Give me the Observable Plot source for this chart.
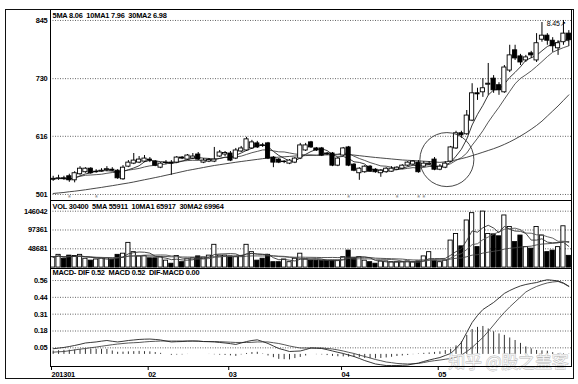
<!DOCTYPE html>
<html><head><meta charset="utf-8">
<script src="https://cdn.jsdelivr.net/npm/d3@7"></script>
<script src="https://cdn.jsdelivr.net/npm/@observablehq/plot@0.6"></script>
<style>
html,body{margin:0;padding:0;background:#fff;}
#chart{position:relative;width:578px;height:384px;overflow:hidden;background:#fff;}
#frame{position:absolute;left:5px;top:9px;width:569px;height:370px;box-sizing:border-box;border:1.5px solid #111;}
#chart svg{position:absolute;left:0;overflow:visible;}
</style></head>
<body><div id="chart"><div id="frame"></div></div>
<script>
// ---------- data ----------
const N = 97;
const monthStart = [0, 18, 33, 54, 72];
const monthLabels = ["201301", "02", "03", "04", "05"];

const open = [5.30,5.32,5.33,5.37,5.29,5.41,5.45,5.52,5.45,5.46, 5.49,5.50,5.48,5.31,5.56,5.62,5.64,5.66,5.70,5.66, 5.54,5.63,5.64,5.64,5.74,5.70,5.72,5.80,5.64,5.66, 5.66,5.76,5.80,5.82,5.72,5.86,5.88,5.92,6.02,5.98, 6.02,5.74,5.70,5.65,5.62,5.64,5.72,5.88,6.04,5.92, 5.92,5.82,5.82,5.58,5.78,5.94,5.60,5.43,5.45,5.56, 5.50,5.43,5.45,5.46,5.50,5.52,5.58,5.60,5.64,5.56, 5.60,5.70,5.50,5.54,5.66,5.92,6.22,6.20,6.47,7.01, 7.03,7.18,7.30,7.17,7.03,7.46,7.86,7.74,7.66,7.80, 7.66,8.07,8.15,8.05,7.90,8.02,8.19];
const high = [5.37,5.39,5.37,5.41,5.46,5.56,5.54,5.54,5.50,5.52, 5.56,5.54,5.50,5.58,5.68,5.82,5.76,5.78,5.74,5.68, 5.64,5.68,5.68,5.76,5.76,5.80,5.82,5.84,5.72,5.72, 5.94,5.88,5.86,5.86,5.92,5.96,6.14,6.08,6.06,6.02, 6.04,5.76,5.72,5.68,5.70,5.74,6.02,6.02,6.06,5.94, 5.94,5.84,5.84,5.74,5.94,5.96,5.62,5.54,5.58,5.58, 5.52,5.50,5.54,5.56,5.56,5.60,5.66,5.68,5.68,5.66, 5.66,5.74,5.60,5.66,5.96,6.26,6.26,6.67,7.20,7.11, 7.30,7.60,7.36,7.22,7.56,7.96,7.96,7.78,7.76,7.84, 8.19,8.41,8.19,8.11,8.05,8.45,8.25];
const low = [5.27,5.29,5.29,5.25,5.24,5.39,5.43,5.41,5.43,5.45, 5.46,5.46,5.31,5.29,5.54,5.60,5.62,5.64,5.64,5.56, 5.52,5.60,5.39,5.62,5.70,5.68,5.70,5.68,5.62,5.64, 5.64,5.74,5.76,5.66,5.70,5.84,5.86,5.90,5.92,5.94, 5.70,5.54,5.62,5.62,5.60,5.62,5.70,5.86,5.92,5.86, 5.76,5.78,5.56,5.56,5.76,5.56,5.46,5.29,5.43,5.45, 5.43,5.35,5.43,5.45,5.48,5.50,5.56,5.58,5.43,5.54, 5.58,5.48,5.48,5.52,5.64,5.90,6.12,6.18,6.45,6.87, 6.93,6.97,7.01,6.97,7.01,7.42,7.66,7.56,7.62,7.70, 7.62,8.02,7.96,7.82,7.76,7.96,7.94];
const close = [5.32,5.33,5.32,5.29,5.43,5.52,5.52,5.43,5.46,5.48, 5.51,5.48,5.33,5.54,5.64,5.68,5.70,5.72,5.68,5.58, 5.62,5.64,5.62,5.74,5.72,5.78,5.76,5.70,5.68,5.69, 5.70,5.84,5.83,5.68,5.88,5.92,6.10,6.04,5.94,5.97, 5.72,5.64,5.64,5.66,5.68,5.72,5.98,5.98,5.94,5.88, 5.78,5.81,5.58,5.72,5.92,5.58,5.48,5.52,5.56,5.46, 5.45,5.48,5.52,5.52,5.54,5.58,5.64,5.66,5.45,5.62, 5.62,5.50,5.56,5.62,5.94,6.22,6.18,6.57,7.01,6.99, 7.11,7.20,7.07,7.07,7.52,7.76,7.70,7.62,7.72,7.76, 8.00,8.15,8.05,7.94,8.00,8.19,8.06];
const ma30 = [5.030,5.040,5.050,5.064,5.075,5.089,5.103,5.119,5.135,5.150, 5.168,5.184,5.202,5.220,5.237,5.257,5.279,5.301,5.322,5.344, 5.366,5.390,5.413,5.437,5.461,5.485,5.504,5.524,5.544,5.564, 5.583,5.599,5.615,5.631,5.647,5.662,5.676,5.690,5.704,5.718, 5.732,5.740,5.748,5.755,5.763,5.771,5.775,5.779,5.783,5.787, 5.791,5.793,5.795,5.797,5.799,5.801,5.789,5.777,5.765,5.753, 5.742,5.732,5.722,5.712,5.702,5.692,5.686,5.680,5.674,5.668, 5.662,5.652,5.645,5.655,5.672,5.695,5.718,5.745,5.778,5.810, 5.845,5.880,5.915,5.955,6.000,6.050,6.105,6.165,6.230,6.300, 6.375,6.460,6.560,6.660,6.760,6.870,6.980];
const volume = [27000,33000,23000,31000,30000,33000,23000,18000,21000,24000, 24000,21000,33000,36000,64000,40000,29000,30000,24000,24000, 27000,18000,10000,30000,14000,23000,24000,29000,26000,31000, 59000,31000,31000,29000,27000,30000,59000,40000,18000,23000, 33000,14000,14000,21000,14000,23000,36000,21000,18000,18000, 18000,18000,18000,18000,27000,44000,23000,27000,18000,14000, 10000,16000,16000,14000,14000,14000,16000,14000,16000,29000, 40000,18000,14000,18000,70000,87000,55000,122000,141000,53000, 145000,87000,86000,81000,135000,105000,66000,83000,53000,49000, 105000,83000,40000,44000,53000,107000,30400];
const dif = [0.043,0.048,0.053,0.060,0.068,0.077,0.087,0.091,0.095,0.101, 0.106,0.100,0.095,0.100,0.106,0.110,0.114,0.116,0.117,0.114, 0.110,0.102,0.095,0.097,0.098,0.101,0.102,0.101,0.098,0.097, 0.095,0.091,0.087,0.082,0.076,0.087,0.098,0.106,0.111,0.098, 0.083,0.064,0.045,0.034,0.022,0.024,0.026,0.037,0.049,0.047, 0.045,0.036,0.026,0.016,0.007,-0.005,-0.016,-0.031,-0.047,-0.060, -0.073,-0.079,-0.085,-0.085,-0.085,-0.083,-0.081,-0.073,-0.066,-0.054, -0.043,-0.033,-0.024,-0.008,0.007,0.045,0.091,0.167,0.243,0.297, 0.342,0.369,0.396,0.430,0.465,0.487,0.506,0.522,0.533,0.541, 0.548,0.560,0.569,0.565,0.560,0.545,0.520];
const dea = [0.017,0.020,0.022,0.028,0.034,0.040,0.045,0.051,0.056,0.062, 0.068,0.074,0.079,0.083,0.087,0.089,0.091,0.095,0.098,0.100, 0.102,0.102,0.102,0.102,0.102,0.102,0.102,0.101,0.098,0.098, 0.098,0.097,0.095,0.093,0.091,0.091,0.091,0.092,0.095,0.095, 0.095,0.089,0.083,0.074,0.064,0.056,0.049,0.049,0.049,0.049, 0.049,0.045,0.041,0.034,0.026,0.016,0.007,-0.005,-0.016,-0.027, -0.039,-0.048,-0.058,-0.063,-0.069,-0.071,-0.073,-0.071,-0.069,-0.062, -0.054,-0.048,-0.043,-0.037,-0.031,-0.020,-0.005,0.022,0.053,0.091, 0.129,0.175,0.224,0.274,0.320,0.362,0.400,0.438,0.476,0.499, 0.518,0.533,0.545,0.552,0.556,0.541,0.518];

const priceTicks = [5.01, 6.16, 7.30, 8.45];
const priceTickLabels = ["501", "616", "730", "845"];
const volTicks = [48681, 97361, 146042];
const macdTicks = [0.05, 0.1783, 0.3067, 0.435, 0.5633];
const macdTickLabels = ["0.05", "0.18", "0.31", "0.44", "0.56"];

const priceLegend = "5MA 8.06\u00a0\u00a010MA1 7.96\u00a0\u00a030MA2 6.98";
const volLegend = "VOL 30400\u00a0\u00a05MA 55911\u00a0\u00a010MA1 65917\u00a0\u00a030MA2 69964";
const macdLegend = "MACD- DIF 0.52\u00a0\u00a0MACD 0.52\u00a0\u00a0DIF-MACD 0.00";
const highLabel = "8.45";
const markerIdx = [3, 8, 55, 64, 68, 69];
const circleAt = [{i: 73.3, price: 5.70}];
const watermark = "知乎 @股之盖客";

// ---------- build ----------
const rows = d3.range(N).map(i => ({
  i, open: open[i], high: high[i], low: low[i], close: close[i],
  ma30: ma30[i], volume: volume[i], dif: dif[i], dea: dea[i],
  up: close[i] >= open[i]
}));

const FONT = "'Liberation Sans', Arial, Helvetica, sans-serif";
const baseStyle = {background: "transparent", fontFamily: FONT, fontSize: "7.4px", fontWeight: "bold", color: "#000", overflow: "visible", letterSpacing: "-0.2px"};
const grid = {stroke: "#555", strokeDasharray: "1,1.5", strokeWidth: 0.9};
const W = 572, ML = 50, MR = 1;
const xDomain = [-0.5, N - 0.5];
const half = 0.39;
const bodyFill = d => d.up ? "#fff" : "#000";
const hiIdx = d3.maxIndex(high);

const pricePlot = Plot.plot({
  width: W, height: 191, marginLeft: ML, marginRight: MR, marginTop: 0, marginBottom: 0,
  style: baseStyle,
  x: {domain: xDomain, axis: null},
  y: {domain: [4.891, 8.667], ticks: priceTicks, tickFormat: d => priceTickLabels[priceTicks.indexOf(d)], tickSize: 0, tickPadding: 3, label: null},
  marks: [
    Plot.ruleY(priceTicks, grid),
    Plot.lineY(rows, {x: "i", y: "ma30", stroke: "#333", strokeWidth: 0.9}),
    Plot.lineY(rows, Plot.windowY({k: 10, anchor: "end"}, {x: "i", y: "close", stroke: "#444", strokeWidth: 0.9})),
    Plot.lineY(rows, Plot.windowY({k: 5, anchor: "end"}, {x: "i", y: "close", stroke: "#222", strokeWidth: 0.9})),
    Plot.ruleX(rows, {x: "i", y1: "low", y2: "high", stroke: "#000", strokeWidth: 1}),
    Plot.rect(rows, {x1: d => d.i - half, x2: d => d.i + half, y1: "open", y2: "close", fill: bodyFill, stroke: "#000", strokeWidth: 0.9}),
    Plot.dot(circleAt, {x: "i", y: "price", r: 27, stroke: "#333", fill: "none", strokeWidth: 0.9}),
    Plot.text(markerIdx, {x: d => d, frameAnchor: "bottom", dy: -1, text: () => "*", fill: "#999", fontSize: 7}),
    Plot.text([rows[hiIdx]], {x: "i", y: "high", text: () => highLabel + "↗", textAnchor: "end", dx: 2, dy: 3, fontSize: 7, fontWeight: "normal"}),
    Plot.text([priceLegend], {frameAnchor: "top-left", dx: 2, dy: 3, text: d => d}),
    Plot.frame({stroke: "#000", strokeWidth: 1})
  ]
});

const volPlot = Plot.plot({
  width: W, height: 68, marginLeft: ML, marginRight: MR, marginTop: 0, marginBottom: 0,
  style: baseStyle,
  x: {domain: xDomain, axis: null},
  y: {domain: [-2330, 173740], ticks: volTicks, tickFormat: d => String(d), tickSize: 0, tickPadding: 3, label: null},
  marks: [
    Plot.ruleY(volTicks, grid),
    Plot.rect(rows, {x1: d => d.i - half, x2: d => d.i + half, y1: 0, y2: "volume", fill: bodyFill, stroke: "#000", strokeWidth: 0.9}),
    Plot.lineY(rows, Plot.windowY({k: 30, anchor: "end"}, {x: "i", y: "volume", stroke: "#444", strokeWidth: 0.9})),
    Plot.lineY(rows, Plot.windowY({k: 10, anchor: "end"}, {x: "i", y: "volume", stroke: "#555", strokeWidth: 0.9})),
    Plot.lineY(rows, Plot.windowY({k: 5, anchor: "end"}, {x: "i", y: "volume", stroke: "#333", strokeWidth: 0.9})),
    Plot.text([volLegend], {frameAnchor: "top-left", dx: 2, dy: 3, text: d => d}),
    Plot.frame({stroke: "#000", strokeWidth: 1})
  ]
});

const macdPlot = Plot.plot({
  width: W, height: 110, marginLeft: ML, marginRight: MR, marginTop: 0, marginBottom: 12,
  style: baseStyle,
  x: {domain: xDomain, label: null},
  y: {domain: [-0.0923, 0.655], ticks: macdTicks, tickFormat: d => macdTickLabels[macdTicks.indexOf(d)], tickSize: 0, tickPadding: 3, label: null},
  marks: [
    Plot.ruleY(macdTicks, grid),
    Plot.ruleX(rows, {x: "i", y1: 0, y2: d => d.dif - d.dea, stroke: "#000", strokeWidth: 0.8}),
    Plot.lineY(rows, {x: "i", y: "dea", stroke: "#444", strokeWidth: 0.9}),
    Plot.lineY(rows, {x: "i", y: "dif", stroke: "#222", strokeWidth: 0.9}),
    Plot.text([watermark], {frameAnchor: "bottom-right", dx: -3, dy: 1, text: d => d, fontSize: 17, fontWeight: "normal", letterSpacing: "0px", fontFamily: "'Noto Sans CJK SC', sans-serif", fill: "#fff", fillOpacity: 0.75, stroke: "#b8b8b8", strokeWidth: 0.8}),
    Plot.axisX(monthStart.map(m => m - 0.5), {anchor: "bottom", tickSize: 4, tickPadding: 1, textAnchor: "start", dx: 1, label: null, tickFormat: d => monthLabels[monthStart.indexOf(d + 0.5)]}),
    Plot.text([macdLegend], {frameAnchor: "top-left", dx: 2, dy: 1, text: d => d}),
    Plot.frame({stroke: "#000", strokeWidth: 1})
  ]
});

const chart = document.getElementById("chart");
function place(svg, top) { svg.style.top = top + "px"; svg.style.left = "0px"; svg.style.position = "absolute"; chart.appendChild(svg); }
place(pricePlot, 9);
place(volPlot, 200);
place(macdPlot, 268);
</script>
</body></html>
